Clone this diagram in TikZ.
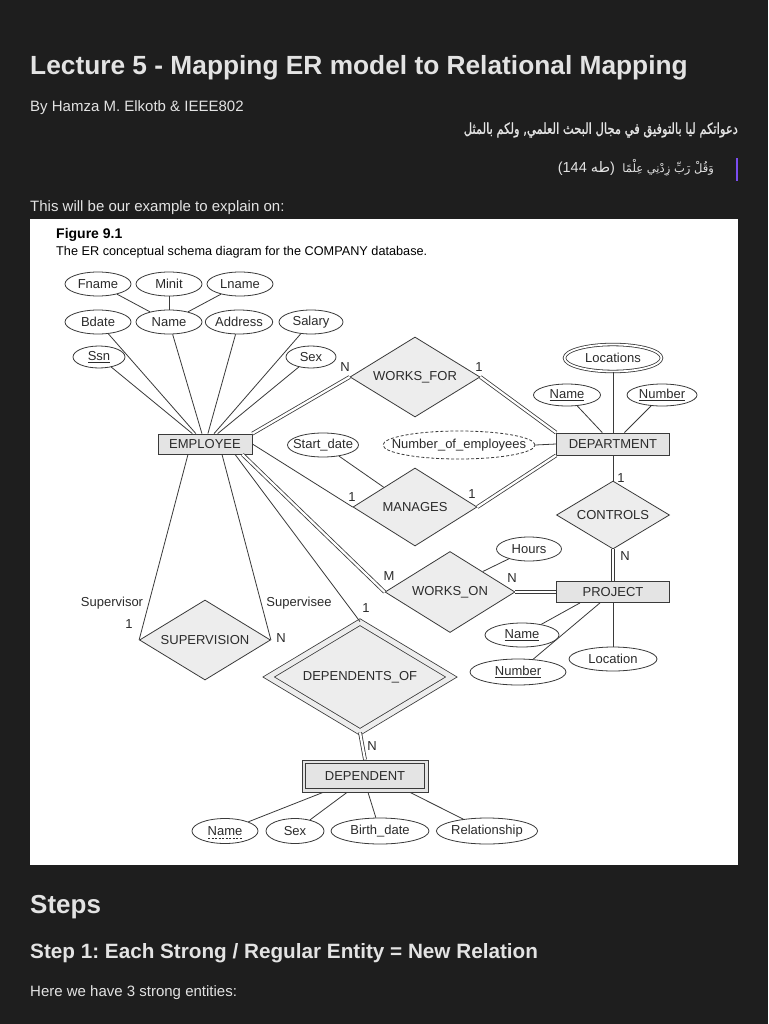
\documentclass[tikz,border=0pt]{standalone}
\usepackage{fontspec}
\setmainfont{Liberation Sans}
\newfontfamily\arabicfont[Script=Arabic]{DejaVu Sans}
\newfontfamily\arabicbold[Script=Arabic,FakeBold=1.6]{DejaVu Sans}
\TeXXeTstate=1
\frenchspacing
\usepackage{graphicx}
\usepackage{tikz}
\usetikzlibrary{shapes.geometric,positioning}
\definecolor{pagebg}{HTML}{1E1E1E}
\definecolor{pagefg}{HTML}{E3E3E3}
\definecolor{barviolet}{HTML}{7B4DF0}
\definecolor{erline}{HTML}{3A3A3A}
\definecolor{ertext}{HTML}{2B2B2B}
\definecolor{entfill}{HTML}{E4E4E4}
\definecolor{relfill}{HTML}{EDEDED}
\newcommand\erfont{\fontsize{13}{15}\selectfont}
\tikzset{
  attr/.style={ellipse, draw=erline, line width=0.8pt, fill=white, inner sep=0pt,
               minimum width=66pt, minimum height=24pt, font=\erfont, text=ertext},
  mvattr/.style={attr, double=white, double distance=1.8pt},
  drvattr/.style={attr, dash pattern=on 3pt off 2pt},
  entity/.style={rectangle, draw=erline, line width=0.8pt, fill=entfill, inner sep=0pt,
                 minimum width=94pt, minimum height=20pt, font=\erfont, text=ertext},
  rel/.style={diamond, aspect=1.6, draw=erline, line width=0.8pt, fill=relfill,
              inner sep=0pt, font=\erfont, text=ertext},
  idrel/.style={rel, double=relfill, double distance=5pt},
  ln/.style={draw=erline, line width=0.8pt},
  dbl/.style={ln, double=white, double distance=2.2pt},
  card/.style={inner sep=0pt, font=\erfont, text=ertext}
}

\begin{document}
\begin{tikzpicture}[
  x=1pt, y=-1pt,
  hdtitle/.style={inner sep=0pt, text=pagefg, font=\fontsize{26.3}{30}\selectfont\bfseries},
  hdsub/.style={inner sep=0pt, text=pagefg, font=\fontsize{20.7}{24}\selectfont\bfseries},
  hdhead/.style={inner sep=0pt, text=pagefg, font=\fontsize{26}{30}\selectfont\bfseries},
  hdtext/.style={inner sep=0pt, text=pagefg, font=\fontsize{15}{18}\selectfont},
  figcap/.style={inner sep=0pt, text=black, font=\fontsize{12.7}{15}\selectfont},
  partkey/.style={draw=ertext, line width=0.6pt, dash pattern=on 2pt off 1.5pt}
]
\useasboundingbox (0,0) rectangle (768,1024);
\fill[pagebg] (0,0) rectangle (768,1024);
% ---- page header ----
\node[hdtitle, anchor=base west] (title) at (30,75) {Lecture 5 - Mapping ER model to Relational Mapping};
\node[hdtext, anchor=base west] (byline) at (30,112) {By Hamza M. Elkotb \& IEEE802};
\node[hdtext, anchor=east] (dua) at (738,130)
  {\scalebox{1}[1.3]{\resizebox{274pt}{!}{\arabicbold\beginR دعواتكم ليا بالتوفيق في مجال البحث العلمي\kern0pt, ولكم بالمثل\endR}}};
\node[hdtext, anchor=east, font=\fontsize{11.5}{14}\selectfont] (ayah) at (714,168)
  {\arabicfont\beginR وَقُلْ رَبِّ زِدْنِي عِلْمًا\endR};
\node[hdtext, left=7pt of ayah, font=\fontsize{14.5}{16}\selectfont] (ayahref) {(144 {\arabicfont طه})};
\fill[barviolet] (735.8,158) rectangle (738.4,181);
\node[hdtext, anchor=base west] (intro) at (30,212) {This will be our example to explain on:};
% ---- figure panel ----
\fill[white] (30,219) rectangle (738,865);
\node[figcap, anchor=base west, font=\fontsize{14}{16}\selectfont\bfseries] (fignum) at (56,239) {Figure 9.1};
\node[figcap, anchor=base west] (figtxt) at (56,255) {The ER conceptual schema diagram for the COMPANY database.};
% ---- EMPLOYEE and its attributes ----
\node[entity] (emp) at (205,444) {EMPLOYEE};
\node[attr] (fname) at (98,284) {Fname};
\node[attr] (minit) at (169,284) {Minit};
\node[attr] (lname) at (240,284) {Lname};
\node[attr] (bdate) at (98,322) {Bdate};
\node[attr] (ename) at (169,322) {Name};
\node[attr] (addr) at (239,322) {Address};
\node[attr, minimum width=64pt] (salary) at (311,322) {Salary};
\node[attr, minimum width=52pt, minimum height=22pt] (ssn) at (99,357) {\underline{Ssn}};
\node[attr, minimum width=50pt, minimum height=22pt] (sex) at (311,357) {Sex};
% ---- DEPARTMENT and its attributes ----
\node[entity, minimum width=113pt, minimum height=22pt] (dept) at (613,444) {DEPARTMENT};
\node[mvattr, minimum width=97pt, minimum height=27pt] (locs) at (613,358) {Locations};
\node[attr, minimum width=67pt, minimum height=22pt] (dname) at (567,395) {\underline{Name}};
\node[attr, minimum width=70pt, minimum height=22pt] (dnum) at (662,395) {\underline{Number}};
\node[drvattr, minimum width=152pt, minimum height=28pt] (noe) at (459,445) {\makebox[100pt]{Number\_of\_employees}};
% ---- relationships ----
\node[rel, minimum width=130pt, minimum height=80pt] (wf) at (415,377) {WORKS\_FOR};
\node[attr, minimum width=71pt] (sdate) at (323,445) {\makebox[50pt]{Start\_date}};
\node[rel, minimum width=124pt, minimum height=78pt] (man) at (415,507) {MANAGES};
\node[rel, minimum width=113pt, minimum height=68pt] (ctl) at (613,515) {CONTROLS};
\node[rel, minimum width=130pt, minimum height=81pt] (won) at (450,592) {WORKS\_ON};
\node[attr, minimum width=65pt] (hrs) at (529,549) {Hours};
\node[rel, minimum width=131pt, minimum height=80pt] (sup) at (205,640) {SUPERVISION};
\node[idrel, minimum width=183pt, minimum height=110pt] (dof) at (360,677) {DEPENDENTS\_OF};
% ---- PROJECT and its attributes ----
\node[entity, minimum width=113pt, minimum height=21pt] (proj) at (613,592) {PROJECT};
\node[attr, minimum width=74pt] (pname) at (522,635) {\underline{Name}};
\node[attr, minimum width=96pt, minimum height=26pt] (pnum) at (518,672) {\underline{Number}};
\node[attr, minimum width=88pt] (ploc) at (613,659) {Location};
% ---- DEPENDENT and its attributes ----
\node[entity, minimum width=126pt, minimum height=32pt] (dep) at (365,776) {DEPENDENT};
\draw[ln] ([xshift=4pt,yshift=-4pt]dep.north west) rectangle ([xshift=-4pt,yshift=4pt]dep.south east);
\node[attr, minimum width=66pt, minimum height=25pt] (qname) at (225,831) {Name};
\draw[partkey] ([xshift=-17pt,yshift=-3pt]qname.base) -- ([xshift=17pt,yshift=-3pt]qname.base);
\node[attr, minimum width=58pt, minimum height=25pt] (qsex) at (295,831) {Sex};
\node[attr, minimum width=98pt, minimum height=26pt] (qbirth) at (380,831) {Birth\_date};
\node[attr, minimum width=100pt, minimum height=26pt] (qrel) at (487,831) {Relationship};
% ---- attribute links ----
\draw[ln] (fname) -- (ename);
\draw[ln] (minit) -- (ename);
\draw[ln] (lname) -- (ename);
\draw[ln] (ssn) -- (emp);
\draw[ln] (bdate) -- (emp);
\draw[ln] (ename) -- (emp);
\draw[ln] (addr) -- (emp);
\draw[ln] (salary) -- (emp);
\draw[ln] (sex) -- (emp);
\draw[ln] (locs) -- (dept);
\draw[ln] (dname) -- (dept);
\draw[ln] (dnum) -- (dept);
\draw[ln] (noe.east) -- (dept.west);
\draw[ln] (sdate) -- (man.north west);
\draw[ln] (hrs) -- (won.north east);
\draw[ln] (pname) -- ([xshift=-33pt]proj.south);
\draw[ln] (pnum) -- ([xshift=-13pt]proj.south);
\draw[ln] (ploc) -- (proj);
\draw[ln] ([xshift=-42pt]dep.south) -- (qname);
\draw[ln] ([xshift=-18pt]dep.south) -- (qsex);
\draw[ln] ([xshift=3pt]dep.south) -- (qbirth);
\draw[ln] ([xshift=45pt]dep.south) -- (qrel);
% ---- relationship links ----
\draw[dbl] (emp.north east) -- (wf.west);
\draw[dbl] (wf.east) -- (dept.north west);
\draw[ln] (emp.east) -- (man.west);
\draw[dbl] (man.east) -- (dept.south west);
\draw[ln] (dept) -- (ctl);
\draw[dbl] (ctl) -- (proj);
\draw[dbl] ([xshift=-10pt]emp.south east) -- (won.west);
\draw[dbl] (won.east) -- (proj.west);
\draw[ln] ([xshift=-17pt]emp.south) -- (sup.west);
\draw[ln] ([xshift=17pt]emp.south) -- (sup.east);
\draw[ln] ([xshift=30pt]emp.south) -- (dof.north);
\draw[dbl] (dof.south) -- (dep.north);
% ---- cardinalities and roles ----
\node[card] (c1) at (345,367) {N};
\node[card] (c2) at (479,367) {1};
\node[card] (c3) at (352,497) {1};
\node[card] (c4) at (472,494) {1};
\node[card] (c5) at (621,478) {1};
\node[card] (c6) at (625,556) {N};
\node[card] (c7) at (389,576) {M};
\node[card] (c8) at (512,578) {N};
\node[card] (c9) at (366,608) {1};
\node[card] (c10) at (372,746) {N};
\node[card] (rsor) at (112,603) {Supervisor};
\node[card] (c11) at (129,624) {1};
\node[card] (rsee) at (299,603) {Supervisee};
\node[card] (c12) at (281,638) {N};
% ---- text below the figure ----
\node[hdhead, anchor=base west] (steps) at (30,913) {Steps};
\node[hdsub, anchor=base west] (step1) at (30,958) {Step 1: Each Strong / Regular Entity = New Relation};
\node[hdtext, anchor=base west] (here) at (30,996) {Here we have 3 strong entities:};
\end{tikzpicture}
\end{document}
